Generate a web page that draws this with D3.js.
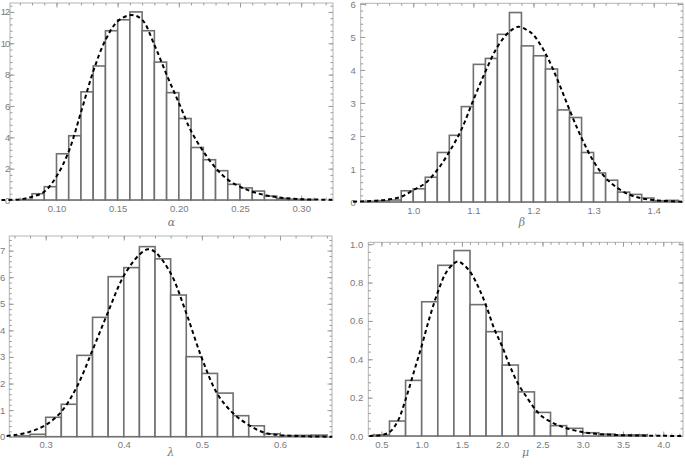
<!DOCTYPE html>
<html>
<head>
  <title>Posterior histograms</title>
  <script src="https://cdnjs.cloudflare.com/ajax/libs/d3/7.8.5/d3.min.js"></script>
  <style>
    body { margin: 0; background: #fff; }
    .axis text { font-family: "Liberation Sans", Arial, sans-serif; font-size: 9.5px; fill: #7a7a7a; }
    .axis line { stroke: #9a9a9a; }
    .axis path { display: none; }
    .tight text { letter-spacing: -1px; }
    .frame { fill: none; stroke: #b4b4b4; stroke-width: 1px; }
    .bar { fill: #fff; stroke: #707070; stroke-width: 1.6px; }
    .fit { fill: none; stroke: #000; stroke-width: 2px; stroke-dasharray: 4,3; }
    .name { font-family: "DejaVu Serif", serif; font-style: italic; font-size: 11px; fill: #7a7a7a; }
  </style>
</head>
<body>
<svg width="685" height="467"></svg>
<script>
// histogram bins (left edges) and bar heights
var alphaBins = [0.07, 0.08, 0.09, 0.10, 0.11, 0.12, 0.13, 0.14, 0.15, 0.16, 0.17, 0.18,
                 0.19, 0.20, 0.21, 0.22, 0.23, 0.24, 0.25, 0.26, 0.27, 0.28, 0.29, 0.30];
var alphaHeights = [0.03, 0.4, 0.85, 2.95, 4.1, 6.9, 8.55, 10.8, 11.5, 12.0, 10.8, 8.8,
                    6.85, 5.2, 3.35, 2.57, 1.87, 1.0, 0.77, 0.57, 0.25, 0.1, 0.05, 0.03];
var alphaCurveX = [0.055, 0.07, 0.08, 0.09, 0.10, 0.11, 0.12, 0.13, 0.14, 0.15, 0.161, 0.17, 0.18, 0.19,
                   0.20, 0.21, 0.22, 0.23, 0.24, 0.25, 0.26, 0.27, 0.28, 0.29, 0.30, 0.31, 0.326];
var alphaCurveY = [0.0, 0.04, 0.21, 0.53, 1.5, 3.1, 5.6, 8.2, 10.2, 11.4, 11.8, 11.5, 9.9, 8.0,
                   6.2, 4.4, 3.1, 2.05, 1.3, 0.85, 0.53, 0.32, 0.18, 0.1, 0.05, 0.03, 0.01];
var alphaXTicks = [0.10, 0.15, 0.20, 0.25, 0.30];
var alphaYTicks = [0, 2, 4, 6, 8, 10, 12];

var betaBins = [0.92, 0.94, 0.96, 0.98, 1.00, 1.02, 1.04, 1.06, 1.08, 1.10, 1.12, 1.14, 1.16,
                1.18, 1.20, 1.22, 1.24, 1.26, 1.28, 1.30, 1.32, 1.34, 1.36, 1.38, 1.40, 1.42];
var betaHeights = [0.02, 0.04, 0.06, 0.34, 0.40, 0.75, 1.5, 2.02, 2.89, 4.17, 4.35, 5.08, 5.74,
                   4.73, 4.43, 4.03, 2.79, 2.56, 1.5, 0.88, 0.66, 0.3, 0.23, 0.12, 0.04, 0.05];
var betaCurveX = [0.90, 0.94, 0.96, 0.98, 1.00, 1.02, 1.04, 1.06, 1.08, 1.10, 1.12, 1.14, 1.16, 1.175,
                  1.19, 1.20, 1.22, 1.24, 1.26, 1.28, 1.30, 1.32, 1.34, 1.36, 1.38, 1.40, 1.42, 1.449];
var betaCurveY = [0.01, 0.04, 0.08, 0.16, 0.36, 0.57, 0.97, 1.52, 2.19, 3.09, 3.95, 4.7, 5.16, 5.31,
                  5.2, 5.06, 4.5, 3.7, 2.79, 1.94, 1.23, 0.73, 0.42, 0.22, 0.11, 0.06, 0.03, 0.01];
var betaXTicks = [1.0, 1.1, 1.2, 1.3, 1.4];
var betaYTicks = [0, 1, 2, 3, 4, 5, 6];

var lambdaBins = [0.26, 0.28, 0.30, 0.32, 0.34, 0.36, 0.38, 0.40, 0.42, 0.44,
                  0.46, 0.48, 0.50, 0.52, 0.54, 0.56, 0.58, 0.60, 0.62, 0.64];
var lambdaHeights = [0.03, 0.09, 0.73, 1.22, 3.06, 4.49, 6.02, 6.36, 7.15, 6.69,
                     5.33, 3.01, 2.38, 1.64, 0.79, 0.41, 0.11, 0.04, 0.05, 0.06];
var lambdaCurveX = [0.25, 0.26, 0.28, 0.30, 0.32, 0.34, 0.36, 0.38, 0.40, 0.42, 0.431, 0.44,
                    0.46, 0.48, 0.50, 0.52, 0.54, 0.56, 0.58, 0.60, 0.62, 0.64, 0.667];
var lambdaCurveY = [0.03, 0.06, 0.19, 0.44, 0.94, 1.88, 3.26, 4.7, 6.05, 6.85, 7.05, 6.95,
                    6.15, 4.65, 2.95, 1.6, 0.88, 0.44, 0.15, 0.06, 0.03, 0.01, 0.0];
var lambdaXTicks = [0.3, 0.4, 0.5, 0.6];
var lambdaYTicks = [0, 1, 2, 3, 4, 5, 6, 7];

var muBins = [0.4, 0.6, 0.8, 1.0, 1.2, 1.4, 1.6, 1.8, 2.0, 2.2, 2.4, 2.6, 2.8, 3.0, 3.2, 3.4, 3.6];
var muHeights = [0.005, 0.078, 0.29, 0.70, 0.89, 0.967, 0.685, 0.544, 0.37, 0.23, 0.123,
                 0.054, 0.04, 0.017, 0.01, 0.005, 0.006];
var muCurveX = [0.35, 0.5, 0.6, 0.7, 0.8, 0.9, 1.0, 1.1, 1.2, 1.3, 1.4, 1.45, 1.5, 1.6, 1.7, 1.8,
                1.9, 2.0, 2.1, 2.2, 2.3, 2.4, 2.5, 2.6, 2.7, 2.8, 3.0, 3.2, 3.5, 4.0, 4.245];
var muCurveY = [0.0, 0.005, 0.02, 0.075, 0.19, 0.33, 0.47, 0.62, 0.75, 0.85, 0.90, 0.91, 0.90, 0.857, 0.78, 0.68,
                0.56, 0.466, 0.36, 0.27, 0.205, 0.145, 0.10, 0.075, 0.055, 0.04, 0.02, 0.01, 0.004, 0.001, 0.0];
var muXTicks = [0.5, 1.0, 1.5, 2.0, 2.5, 3.0, 3.5, 4.0];
var muYTicks = [0.0, 0.2, 0.4, 0.6, 0.8, 1.0];

var panels = [
  { name: "α", bins: alphaBins, heights: alphaHeights, binWidth: 0.01,
    curveX: alphaCurveX, curveY: alphaCurveY, xTicks: alphaXTicks, yTicks: alphaYTicks,
    xFormat: d3.format(".2f"), yFormat: d3.format("d"),
    xDomain: [0.062, 0.326], yDomain: [0, 12.57], xMinor: 0.01, yMinor: 0.4,
    box: {l: 10, r: 333, t: 3, b: 200}, yGap: 0.8, tight: true, nameY: 226 },
  { name: "β", bins: betaBins, heights: betaHeights, binWidth: 0.02,
    curveX: betaCurveX, curveY: betaCurveY, xTicks: betaXTicks, yTicks: betaYTicks,
    xFormat: d3.format(".1f"), yFormat: d3.format("d"),
    xDomain: [0.9126, 1.4487], yDomain: [0, 6.02], xMinor: 0.02, yMinor: 0.2,
    box: {l: 360.7, r: 683, t: 3.3, b: 202}, yGap: 5, nameY: 226 },
  { name: "λ", bins: lambdaBins, heights: lambdaHeights, binWidth: 0.02,
    curveX: lambdaCurveX, curveY: lambdaCurveY, xTicks: lambdaXTicks, yTicks: lambdaYTicks,
    xFormat: d3.format(".1f"), yFormat: d3.format("d"),
    xDomain: [0.2534, 0.6666], yDomain: [0, 7.55], xMinor: 0.02, yMinor: 0.2,
    box: {l: 9.3, r: 332, t: 236, b: 436.7}, yGap: 4, nameY: 456 },
  { name: "μ", bins: muBins, heights: muHeights, binWidth: 0.2,
    curveX: muCurveX, curveY: muCurveY, xTicks: muXTicks, yTicks: muYTicks,
    xFormat: d3.format(".1f"), yFormat: d3.format(".1f"),
    xDomain: [0.337, 4.245], yDomain: [0, 1.01], xMinor: 0.1, yMinor: 0.04,
    box: {l: 368.3, r: 683, t: 242.3, b: 436}, yGap: 5, nameY: 456 }
];

var svg = d3.select("svg");

// minor tick positions: multiples of step inside the domain
function minors(domain, step) {
  var a = Math.ceil(domain[0] / step - 1e-6), b = Math.floor(domain[1] / step + 1e-6);
  return d3.range(a, b + 1).map(function(i) { return +(i * step).toFixed(6); });
}

panels.forEach(function(p) {
  var x = d3.scaleLinear().domain(p.xDomain).range([p.box.l, p.box.r]);
  var y = d3.scaleLinear().domain(p.yDomain).range([p.box.b, p.box.t]);
  var g = svg.append("g");

  g.append("rect")
      .attr("class", "frame")
      .attr("x", p.box.l)
      .attr("y", p.box.t)
      .attr("width", p.box.r - p.box.l)
      .attr("height", p.box.b - p.box.t);

  // frame ticks point inwards, on all four sides
  var xm = minors(p.xDomain, p.xMinor), ym = minors(p.yDomain, p.yMinor);
  g.append("g").attr("class", "axis")
      .attr("transform", "translate(0," + p.box.b + ")")
      .call(d3.axisBottom(x).tickValues(xm).tickSize(-2.5).tickFormat(""));
  g.append("g").attr("class", "axis")
      .attr("transform", "translate(0," + p.box.t + ")")
      .call(d3.axisTop(x).tickValues(xm).tickSize(-2.5).tickFormat(""));
  g.append("g").attr("class", "axis")
      .attr("transform", "translate(0," + p.box.t + ")")
      .call(d3.axisTop(x).tickValues(p.xTicks).tickSize(-4.5).tickFormat(""));
  g.append("g").attr("class", "axis")
      .attr("transform", "translate(" + p.box.l + ",0)")
      .call(d3.axisLeft(y).tickValues(ym).tickSize(-2.5).tickFormat(""));
  g.append("g").attr("class", "axis")
      .attr("transform", "translate(" + p.box.r + ",0)")
      .call(d3.axisRight(y).tickValues(ym).tickSize(-2.5).tickFormat(""));
  g.append("g").attr("class", "axis")
      .attr("transform", "translate(" + p.box.r + ",0)")
      .call(d3.axisRight(y).tickValues(p.yTicks).tickSize(-4.5).tickFormat(""));

  g.append("g").attr("class", "axis")
      .attr("transform", "translate(0," + p.box.b + ")")
      .call(d3.axisBottom(x).tickValues(p.xTicks).tickSize(-4.5).tickPadding(5).tickFormat(p.xFormat));
  g.append("g").attr("class", p.tight ? "axis tight" : "axis")
      .attr("transform", "translate(" + p.box.l + ",0)")
      .call(d3.axisLeft(y).tickValues(p.yTicks).tickSize(-4.5).tickPadding(p.yGap).tickFormat(p.yFormat));

  // histogram bars
  g.selectAll(".bar")
      .data(p.bins)
    .enter().append("rect")
      .attr("class", "bar")
      .attr("x", function(d) { return x(d); })
      .attr("width", function(d) { return x(d + p.binWidth) - x(d); })
      .attr("y", function(d, i) { return y(p.heights[i]); })
      .attr("height", function(d, i) { return y(0) - y(p.heights[i]); });

  // fitted density, dashed
  var line = d3.line()
      .x(function(d) { return x(d); })
      .y(function(d, i) { return y(p.curveY[i]); })
      .curve(d3.curveCatmullRom);
  g.append("path")
      .datum(p.curveX)
      .attr("class", "fit")
      .attr("d", line);

  g.append("text")
      .attr("class", "name")
      .attr("x", (p.box.l + p.box.r) / 2)
      .attr("y", p.nameY)
      .attr("text-anchor", "middle")
      .text(p.name);
});
</script>
</body>
</html>
